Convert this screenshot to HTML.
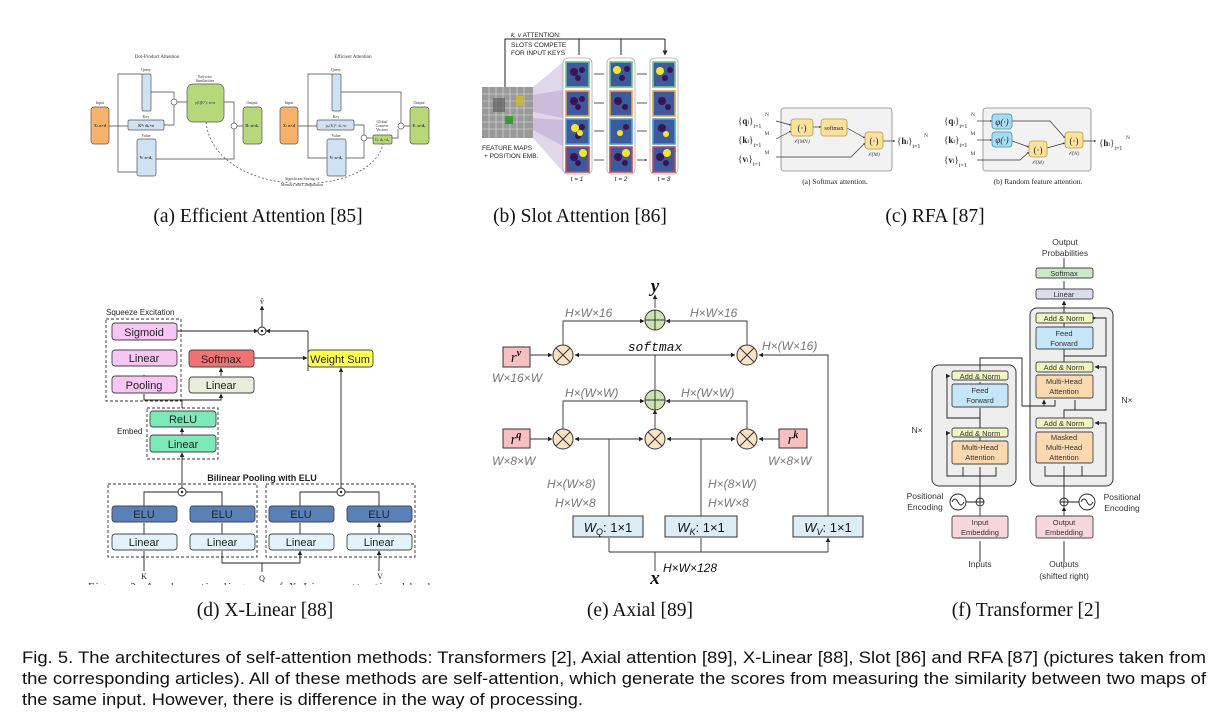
<!DOCTYPE html>
<html><head><meta charset="utf-8"><style>
html,body{margin:0;padding:0;background:#fff;}
svg{display:block;}
.s{font-family:"Liberation Sans",sans-serif;}
.r{font-family:"Liberation Serif",serif;}
</style></head><body>
<svg width="1222" height="716" viewBox="0 0 1222 716" xmlns="http://www.w3.org/2000/svg">
<defs>
<marker id="a" viewBox="0 0 10 10" refX="9" refY="5" markerWidth="5" markerHeight="5" orient="auto"><path d="M0,0L10,5L0,10z" fill="#222"/></marker>
<marker id="as" viewBox="0 0 10 10" refX="9" refY="5" markerWidth="3" markerHeight="3" orient="auto"><path d="M0,0L10,5L0,10z" fill="#333"/></marker>
<clipPath id="cd"><rect x="85" y="579" width="350" height="6"/></clipPath>
</defs>
<rect width="1222" height="716" fill="#fff"/>

<!-- ===== (a) Efficient attention ===== -->
<g class="r" fill="#333" font-size="5">
<text x="157" y="58" text-anchor="middle">Dot-Product Attention</text>
<text x="353" y="58" text-anchor="middle">Efficient Attention</text>
</g>
<g stroke="#444" stroke-width="0.7" fill="none">
<path d="M109,126H128M118,126V74H142M118,126V172H137M151,92H174V99M164,125H174V105M177,102H187M224,102H234V123M156,159H234V129M237,126H243"/>
<path d="M298,126H317M308,126V74H332M308,126V158H327M341,92H401V123M354,125H364V135M346,158H364V141M367,138H373M392,138H398V129M404,126H410"/>
<path d="M206,122 C215,200 370,200 383,144" stroke-dasharray="2,2"/>
</g>
<g stroke="#555" stroke-width="0.7">
<rect x="91" y="107" width="18" height="37" rx="3" fill="#f6b26b"/>
<rect x="142" y="74" width="9" height="37" rx="1.5" fill="#cfe2f3"/>
<rect x="128" y="120" width="36" height="10" rx="1.5" fill="#cfe2f3"/>
<rect x="137" y="139" width="19" height="37" rx="2" fill="#cfe2f3"/>
<rect x="187" y="84" width="37" height="38" rx="6" fill="#b6d77a"/>
<rect x="243" y="107" width="19" height="37" rx="3" fill="#b6d77a"/>
<rect x="280" y="107" width="18" height="37" rx="3" fill="#f6b26b"/>
<rect x="332" y="74" width="9" height="37" rx="1.5" fill="#cfe2f3"/>
<rect x="317" y="120" width="37" height="10" rx="1.5" fill="#cfe2f3"/>
<rect x="327" y="139" width="19" height="37" rx="2" fill="#cfe2f3"/>
<rect x="373" y="135" width="19" height="9" rx="1.5" fill="#b6d77a"/>
<rect x="410" y="107" width="19" height="37" rx="3" fill="#b6d77a"/>
<circle cx="174" cy="102" r="3" fill="#fff"/><circle cx="234" cy="126" r="3" fill="#fff"/>
<circle cx="364" cy="138" r="3" fill="#fff"/><circle cx="401" cy="126" r="3" fill="#fff"/>
</g>
<g class="r" fill="#333" font-size="4" text-anchor="middle">
<text x="100" y="104">Input</text><text x="146" y="71">Query</text><text x="146" y="118">Key</text><text x="146" y="137">Value</text>
<text x="205" y="78">Pairwise</text><text x="205" y="82">Similarities</text><text x="252" y="104">Output</text>
<text x="289" y="104">Input</text><text x="336" y="71">Query</text><text x="336" y="118">Key</text><text x="336" y="137">Value</text>
<text x="382" y="123">Global</text><text x="382" y="127">Context</text><text x="382" y="131">Vectors</text><text x="419" y="104">Output</text>
<text x="302" y="180">Significant Saving of</text><text x="302" y="186">Memory and Computation</text>
<text x="100" y="127" font-weight="bold">X: n×d</text><text x="146" y="127" font-weight="bold">Kᵀ: dₖ×n</text><text x="146" y="159" font-weight="bold">V: n×dᵥ</text>
<text x="205" y="104">ρ(QKᵀ): n×n</text><text x="252" y="127" font-weight="bold">D: n×dᵥ</text>
<text x="289" y="127" font-weight="bold">X: n×d</text><text x="336" y="127">ρₖ(K)ᵀ: dₖ×n</text><text x="336" y="159" font-weight="bold">V: n×dᵥ</text>
<text x="382" y="141">G: dₖ×dᵥ</text><text x="419" y="127" font-weight="bold">E: n×dᵥ</text>
</g>
<text class="r" x="258" y="222" font-size="19.5" text-anchor="middle" fill="#111">(a) Efficient Attention [85]</text>

<!-- ===== (b) Slot attention ===== -->
<g class="s" fill="#222" font-size="6.5">
<text x="511" y="37"><tspan font-style="italic">k, v</tspan> ATTENTION:</text>
<text x="511" y="47">SLOTS COMPETE</text><text x="511" y="55">FOR INPUT KEYS</text>
<text x="482" y="150">FEATURE MAPS</text><text x="484" y="158">+ POSITION EMB.</text>
<text x="577" y="181" font-style="italic" text-anchor="middle">t = 1</text>
<text x="621" y="181" font-style="italic" text-anchor="middle">t = 2</text>
<text x="664" y="181" font-style="italic" text-anchor="middle">t = 3</text>
</g>
<polygon points="533,87 563,62 563,172 533,138" fill="#c8b6da" opacity="0.55"/>
<polygon points="533,95 563,90 563,118 533,112" fill="#9a7fb8" opacity="0.3"/>
<polygon points="533,118 563,120 563,146 533,130" fill="#9a7fb8" opacity="0.3"/>
<g stroke="#222" stroke-width="1" fill="none">
<path d="M505,87V39H665"/>
<path d="M579,39V55M621,39V55M665,39V55" marker-end="url(#a)"/>
</g>
<rect x="482" y="87" width="51" height="51" fill="#9a9a9a"/>
<g stroke="#ddd" stroke-width="0.6">
<path d="M489,87V138M496,87V138M503,87V138M510,87V138M517,87V138M524,87V138M482,94H533M482,101H533M482,108H533M482,115H533M482,122H533M482,129H533"/>
</g>
<rect x="493" y="98" width="12" height="14" fill="#555" opacity="0.6"/>
<rect x="516" y="96" width="8" height="10" fill="#c8b440"/>
<rect x="505" y="116" width="8" height="8" fill="#3a9a3a"/>
<g stroke="#aaa" stroke-width="0.8" fill="#fff">
<rect x="563" y="58" width="29" height="116" rx="5"/><rect x="607" y="58" width="28" height="116" rx="5"/><rect x="650" y="58" width="28" height="116" rx="5"/>
</g>
<g stroke-width="1.6" fill="#3d5a9c">
<rect x="566" y="62" width="23" height="25" stroke="#6fc28a"/><rect x="566" y="91" width="23" height="25" stroke="#e0a24a"/><rect x="566" y="119" width="23" height="25" stroke="#4aa0d8"/><rect x="566" y="147" width="23" height="25" stroke="#c44a4a"/>
<rect x="610" y="62" width="22" height="25" stroke="#6fc28a"/><rect x="610" y="91" width="22" height="25" stroke="#e0a24a"/><rect x="610" y="119" width="22" height="25" stroke="#4aa0d8"/><rect x="610" y="147" width="22" height="25" stroke="#c44a4a"/>
<rect x="653" y="62" width="22" height="25" stroke="#6fc28a"/><rect x="653" y="91" width="22" height="25" stroke="#e0a24a"/><rect x="653" y="119" width="22" height="25" stroke="#4aa0d8"/><rect x="653" y="147" width="22" height="25" stroke="#c44a4a"/>
</g>
<g fill="#3a1455">
<circle cx="574" cy="72" r="4"/><circle cx="582" cy="70" r="3"/><circle cx="578" cy="78" r="3"/>
<circle cx="574" cy="101" r="4"/><circle cx="582" cy="99" r="3"/><circle cx="578" cy="107" r="3"/>
<circle cx="582" cy="127" r="3"/><circle cx="578" cy="136" r="3"/>
<circle cx="574" cy="157" r="4"/><circle cx="578" cy="163" r="3"/>
<circle cx="627" cy="69" r="3"/><circle cx="622" cy="78" r="3"/><circle cx="618" cy="101" r="4"/><circle cx="625" cy="107" r="3"/><circle cx="626" cy="127" r="3"/><circle cx="618" cy="157" r="4"/><circle cx="625" cy="163" r="3"/>
<circle cx="670" cy="70" r="3"/><circle cx="665" cy="78" r="3"/><circle cx="662" cy="101" r="4"/><circle cx="668" cy="107" r="3"/><circle cx="662" cy="128" r="4"/><circle cx="660" cy="157" r="4"/><circle cx="666" cy="163" r="3"/>
</g>
<g fill="#f2e62a">
<circle cx="575" cy="128" r="4"/><circle cx="580" cy="133" r="3"/><circle cx="583" cy="153" r="4"/>
<circle cx="617" cy="70" r="4"/><circle cx="620" cy="133" r="3"/><circle cx="626" cy="153" r="4"/>
<circle cx="660" cy="71" r="4"/><circle cx="666" cy="134" r="3"/><circle cx="667" cy="153" r="4"/>
</g>
<g stroke="#222" stroke-width="0.8" marker-end="url(#as)">
<path d="M594,74H604M594,103H604M594,131H604M594,160H604M637,74H647M637,103H647M637,131H647M637,160H647"/>
</g>
<text class="r" x="580" y="222" font-size="19.5" text-anchor="middle" fill="#111">(b) Slot Attention [86]</text>

<!-- ===== (c) RFA ===== -->
<g stroke="#888" stroke-width="0.8" fill="#f2f2f2">
<rect x="781" y="108" width="111" height="63" rx="3"/><rect x="983" y="108" width="108" height="63" rx="3"/>
</g>
<g stroke="#333" stroke-width="0.7" fill="none" marker-end="url(#as)">
<path d="M776,121L791,125"/><path d="M776,139L791,131"/><path d="M813,127H821"/><path d="M847,128L865,138"/><path d="M776,157H851L865,143"/><path d="M883,141H895"/>
<path d="M977,121H992"/><path d="M977,140H992"/><path d="M1012,141L1029,147"/><path d="M977,160H1020L1029,152"/><path d="M1012,121H1050L1065,138"/><path d="M1047,148L1065,143"/><path d="M1083,141H1096"/>
</g>
<g stroke="#b89a3a" stroke-width="0.8" fill="#fbe1a0">
<rect x="791" y="119" width="22" height="17" rx="3"/><rect x="821" y="119" width="26" height="17" rx="3"/><rect x="865" y="132" width="18" height="17" rx="3"/>
<rect x="1029" y="141" width="18" height="16" rx="3"/><rect x="1065" y="132" width="18" height="16" rx="3"/>
</g>
<g stroke="#4a8ab0" stroke-width="0.8" fill="#a8dcf5">
<rect x="992" y="114" width="20" height="15" rx="3"/><rect x="992" y="132" width="20" height="15" rx="3"/>
</g>
<g class="r" fill="#222" font-size="9">
<text x="802" y="131" text-anchor="middle">(·)</text><text x="834" y="130" text-anchor="middle" font-size="6">softmax</text><text x="874" y="144" text-anchor="middle">(·)</text>
<text x="1038" y="153" text-anchor="middle">(·)</text><text x="1074" y="144" text-anchor="middle">(·)</text>
<text x="1002" y="125" text-anchor="middle" font-style="italic">φ(·)</text><text x="1002" y="143" text-anchor="middle" font-style="italic">φ(·)</text>
<text x="738" y="124">{<tspan font-weight="bold">q</tspan><tspan font-size="6">i</tspan>}<tspan font-size="6" dy="4">i=1</tspan></text>
<text x="738" y="143">{<tspan font-weight="bold">k</tspan><tspan font-size="6">i</tspan>}<tspan font-size="6" dy="4">i=1</tspan></text>
<text x="738" y="162">{<tspan font-weight="bold">v</tspan><tspan font-size="6">i</tspan>}<tspan font-size="6" dy="4">i=1</tspan></text>
<text x="897" y="144">{<tspan font-weight="bold">h</tspan><tspan font-size="6">i</tspan>}<tspan font-size="6" dy="4">i=1</tspan></text>
<text x="944" y="124">{<tspan font-weight="bold">q</tspan><tspan font-size="6">i</tspan>}<tspan font-size="6" dy="4">i=1</tspan></text>
<text x="944" y="143">{<tspan font-weight="bold">k</tspan><tspan font-size="6">i</tspan>}<tspan font-size="6" dy="4">i=1</tspan></text>
<text x="944" y="163">{<tspan font-weight="bold">v</tspan><tspan font-size="6">i</tspan>}<tspan font-size="6" dy="4">i=1</tspan></text>
<text x="1099" y="146">{<tspan font-weight="bold">h</tspan><tspan font-size="6">i</tspan>}<tspan font-size="6" dy="4">i=1</tspan></text>
</g>
<g class="r" fill="#444" font-size="5.5" text-anchor="middle">
<text x="767" y="116">N</text><text x="767" y="135">M</text><text x="767" y="154">M</text><text x="926" y="137">N</text>
<text x="973" y="116">N</text><text x="973" y="135">M</text><text x="973" y="155">M</text><text x="1128" y="139">N</text>
<text x="802" y="143" font-style="italic">𝒪(MN)</text><text x="874" y="156" font-style="italic">𝒪(M)</text>
<text x="1038" y="164" font-style="italic">𝒪(M)</text><text x="1074" y="155" font-style="italic">𝒪(N)</text>
</g>
<g class="r" fill="#222" font-size="7.5" text-anchor="middle">
<text x="835" y="184">(a)  Softmax attention.</text><text x="1038" y="184">(b) Random feature attention.</text>
</g>
<text class="r" x="935" y="222" font-size="19.5" text-anchor="middle" fill="#111">(c) RFA [87]</text>

<!-- ===== (d) X-Linear ===== -->
<g fill="none" stroke="#333" stroke-width="0.9" stroke-dasharray="3,2">
<rect x="106" y="319" width="75" height="82"/><rect x="147" y="408" width="71" height="51"/>
<rect x="108" y="484" width="149" height="73"/><rect x="266" y="484" width="149" height="73"/>
</g>
<g stroke="#222" stroke-width="0.9" fill="none">
<path d="M144,334V324M144,359V350M144,385V375" marker-end="url(#a)"/>
<path d="M308,331V371" />
<path d="M308,331H266" marker-end="url(#a)"/><path d="M177,331H258" marker-end="url(#a)"/>
<path d="M341,490V368" marker-end="url(#a)"/>
<path d="M254,358H307" marker-end="url(#a)"/>
<path d="M221,376V368" marker-end="url(#a)"/>
<path d="M182,408V400H144V394M182,400H221V394"/>
<path d="M144,397V394M221,397V394" marker-end="url(#a)"/>
<path d="M182,435V428" marker-end="url(#a)"/>
<path d="M182,488V453" marker-end="url(#a)"/>
<path d="M262,327V306" marker-end="url(#a)"/>
<path d="M144,506V492H178M186,492H222V506M300,506V492H337M345,492H379V506"/>
<path d="M144,534V523M222,534V523M300,534V523M379,534V523" marker-end="url(#a)"/>
<path d="M144,571V551M379,571V551" marker-end="url(#a)"/>
<path d="M222,556V563H300V556M262,563V572"/>
<path d="M222,556V551M300,556V551" marker-end="url(#a)"/>
</g>
<g stroke="#444" stroke-width="0.9">
<rect x="112" y="323" width="65" height="17" rx="3" fill="#f7c6f2"/>
<rect x="112" y="350" width="65" height="16" rx="3" fill="#f7c6f2"/>
<rect x="112" y="376" width="65" height="17" rx="3" fill="#f7c6f2"/>
<rect x="189" y="350" width="65" height="17" rx="3" fill="#f07272"/>
<rect x="189" y="377" width="65" height="16" rx="3" fill="#e8eddc"/>
<rect x="308" y="350" width="65" height="17" rx="3" fill="#ffff55"/>
<rect x="150" y="411" width="66" height="16" rx="3" fill="#7de8b8"/>
<rect x="150" y="435" width="66" height="17" rx="3" fill="#7de8b8"/>
<rect x="112" y="506" width="65" height="16" rx="3" fill="#5a80b8"/>
<rect x="190" y="506" width="65" height="16" rx="3" fill="#5a80b8"/>
<rect x="269" y="506" width="65" height="16" rx="3" fill="#5a80b8"/>
<rect x="347" y="506" width="65" height="16" rx="3" fill="#5a80b8"/>
<rect x="112" y="534" width="65" height="16" rx="3" fill="#e2f3fb"/>
<rect x="190" y="534" width="65" height="16" rx="3" fill="#e2f3fb"/>
<rect x="269" y="534" width="65" height="16" rx="3" fill="#e2f3fb"/>
<rect x="347" y="534" width="65" height="16" rx="3" fill="#e2f3fb"/>
</g>
<g stroke="#222" stroke-width="0.9" fill="#fff">
<circle cx="262" cy="331" r="4"/><circle cx="182" cy="492" r="4"/><circle cx="341" cy="492" r="4"/>
</g>
<g fill="#222"><circle cx="262" cy="331" r="1.2"/><circle cx="182" cy="492" r="1.2"/><circle cx="341" cy="492" r="1.2"/></g>
<g class="s" fill="#222" font-size="11" text-anchor="middle">
<text x="144" y="336">Sigmoid</text><text x="144" y="362">Linear</text><text x="144" y="389">Pooling</text>
<text x="221" y="363">Softmax</text><text x="221" y="389">Linear</text><text x="340" y="363">Weight Sum</text>
<text x="183" y="423">ReLU</text><text x="183" y="448">Linear</text>
<text x="144" y="518">ELU</text><text x="222" y="518">ELU</text><text x="301" y="518">ELU</text><text x="379" y="518">ELU</text>
<text x="144" y="546">Linear</text><text x="222" y="546">Linear</text><text x="301" y="546">Linear</text><text x="379" y="546">Linear</text>
</g>
<g class="s" fill="#222" font-size="8">
<text x="106" y="315">Squeeze Excitation</text><text x="117" y="434">Embed</text>
<text x="262" y="481" font-weight="bold" font-size="9" text-anchor="middle">Bilinear Pooling with ELU</text>
</g>
<g class="r" fill="#222" font-size="8" text-anchor="middle">
<text x="262" y="304">v̂</text><text x="144" y="579">K</text><text x="262" y="581">Q</text><text x="380" y="579">V</text>
</g>
<text class="r" x="88" y="590" font-size="11" fill="#333" clip-path="url(#cd)" textLength="345">Figure 2: A schematic diagram of X-Linear attention block</text>
<text class="r" x="265" y="616" font-size="19.5" text-anchor="middle" fill="#111">(d) X-Linear [88]</text>

<!-- ===== (e) Axial ===== -->
<g stroke="#333" stroke-width="0.9" fill="none">
<path d="M655,308V295" marker-end="url(#a)"/>
<path d="M563,345V321H644" marker-end="url(#a)"/>
<path d="M747,345V321H666" marker-end="url(#a)"/>
<path d="M530,355H552" marker-end="url(#a)"/>
<path d="M655,389V355H575" marker-end="url(#a)"/>
<path d="M655,355H735" marker-end="url(#a)"/>
<path d="M828,516V355H759" marker-end="url(#a)"/>
<path d="M563,429V401H644" marker-end="url(#a)"/>
<path d="M747,429V401H666" marker-end="url(#a)"/>
<path d="M655,429V410" marker-end="url(#a)"/>
<path d="M530,439H552" marker-end="url(#a)"/>
<path d="M779,439H759" marker-end="url(#a)"/>
<path d="M609,516V439H575" marker-end="url(#a)"/>
<path d="M609,439H643" marker-end="url(#a)"/>
<path d="M701,516V439H667" marker-end="url(#a)"/>
<path d="M701,439H735" marker-end="url(#a)"/>
<path d="M655,571V552M609,552H828"/>
<path d="M609,552V538M701,552V538M828,552V538" marker-end="url(#a)"/>
</g>
<g stroke="#333" stroke-width="1">
<circle cx="655" cy="320" r="10" fill="#cfe1b0"/><circle cx="655" cy="400" r="10" fill="#cfe1b0"/>
<circle cx="563" cy="355" r="10" fill="#fbe3c8"/><circle cx="747" cy="355" r="10" fill="#fbe3c8"/>
<circle cx="563" cy="439" r="10" fill="#fbe3c8"/><circle cx="655" cy="439" r="10" fill="#fbe3c8"/><circle cx="747" cy="439" r="10" fill="#fbe3c8"/>
<path d="M645,320H665M655,310V330M645,400H665M655,390V410"/>
<path d="M556,348L570,362M570,348L556,362M740,348L754,362M754,348L740,362M556,432L570,446M570,432L556,446M648,432L662,446M662,432L648,446M740,432L754,446M754,432L740,446"/>
<rect x="503" y="347" width="27" height="20" fill="#f6c0c0"/>
<rect x="503" y="429" width="27" height="19" fill="#f6c0c0"/>
<rect x="779" y="429" width="28" height="19" fill="#f6c0c0"/>
<rect x="573" y="516" width="70" height="21" fill="#dcedf7"/>
<rect x="665" y="516" width="72" height="21" fill="#dcedf7"/>
<rect x="793" y="516" width="70" height="21" fill="#dcedf7"/>
</g>
<g class="r" fill="#111" font-style="italic">
<text x="655" y="292" font-size="19" font-weight="bold" text-anchor="middle">y</text>
<text x="655" y="584" font-size="19" font-weight="bold" text-anchor="middle">x</text>
<text x="516" y="362" font-size="15" text-anchor="middle">r<tspan font-size="10" dy="-6" font-weight="bold">v</tspan></text>
<text x="516" y="444" font-size="15" text-anchor="middle">r<tspan font-size="10" dy="-6" font-weight="bold">q</tspan></text>
<text x="793" y="444" font-size="15" text-anchor="middle">r<tspan font-size="10" dy="-6" font-weight="bold">k</tspan></text>
</g>
<g class="s" fill="#111" font-size="13">
<text x="608" y="532" text-anchor="middle"><tspan font-style="italic">W<tspan font-size="9" dy="3">Q</tspan></tspan><tspan dy="-3">: 1×1</tspan></text>
<text x="701" y="532" text-anchor="middle"><tspan font-style="italic">W<tspan font-size="9" dy="3">K</tspan></tspan><tspan dy="-3">: 1×1</tspan></text>
<text x="828" y="532" text-anchor="middle"><tspan font-style="italic">W<tspan font-size="9" dy="3">V</tspan></tspan><tspan dy="-3">: 1×1</tspan></text>
<text x="655" y="351" text-anchor="middle" font-family="Liberation Mono,monospace" font-style="italic" font-size="13">softmax</text>
<text x="663" y="572" font-size="12" font-style="italic">H×W×128</text>
</g>
<g class="s" fill="#777" font-size="12" font-style="italic">
<text x="565" y="317">H×W×16</text><text x="690" y="317">H×W×16</text>
<text x="762" y="350">H×(W×16)</text><text x="492" y="382">W×16×W</text>
<text x="565" y="397">H×(W×W)</text><text x="681" y="397">H×(W×W)</text>
<text x="492" y="465">W×8×W</text><text x="768" y="465">W×8×W</text>
<text x="547" y="488">H×(W×8)</text><text x="555" y="507">H×W×8</text>
<text x="708" y="488">H×(8×W)</text><text x="708" y="507">H×W×8</text>
</g>
<text class="r" x="640" y="616" font-size="19.5" text-anchor="middle" fill="#111">(e) Axial [89]</text>

<!-- ===== (f) Transformer ===== -->
<g stroke="#333" stroke-width="1" fill="#eeeeee">
<rect x="932" y="365" width="84" height="121" rx="7"/><rect x="1030" y="308" width="83" height="178" rx="7"/>
</g>
<g stroke="#222" stroke-width="0.9" fill="none">
<path d="M1064,268V258M1064,289V281M1064,313V301" marker-end="url(#a)"/>
<path d="M980,562V541M1064,562V541M980,516V507M1064,516V507" marker-end="url(#a)"/>
<path d="M980,498V467M1064,498V466"/>
<path d="M980,476H947V433H950" marker-end="url(#a)"/><path d="M980,476H963V467M980,476H996V467"/>
<path d="M980,441V412M980,418H947V376H950" marker-end="url(#a)"/>
<path d="M980,428V408M980,384V382"/>
<path d="M980,371V358H1022V406H1055V400"/><path d="M1055,403V400M1033,406H1044V400" marker-end="url(#a)"/>
<path d="M1064,476H1106V423H1095" marker-end="url(#a)"/><path d="M1064,476H1045V466M1064,476H1082V466"/>
<path d="M1064,418V410H1075V400M1064,410V416"/><path d="M1064,410H1106V367H1095" marker-end="url(#a)"/>
<path d="M1064,362V349M1064,327V323M1064,356H1106V318H1095"/>
<path d="M1095,318H1096" marker-end="url(#a)"/>
<path d="M950,502H976M1068,502H1079"/>
</g>
<g stroke="#444" stroke-width="0.9">
<rect x="1036" y="268" width="57" height="10" rx="2" fill="#cbe8c9"/>
<rect x="1036" y="289" width="57" height="10" rx="2" fill="#dcdcf0"/>
<rect x="1036" y="313" width="57" height="10" rx="2" fill="#f0f5c4"/>
<rect x="1036" y="327" width="57" height="22" rx="2" fill="#c4e6f6"/>
<rect x="1036" y="362" width="57" height="10" rx="2" fill="#f0f5c4"/>
<rect x="1036" y="375" width="57" height="23" rx="2" fill="#fbd9b0"/>
<rect x="1036" y="418" width="57" height="10" rx="2" fill="#f0f5c4"/>
<rect x="1036" y="432" width="57" height="31" rx="2" fill="#fbd9b0"/>
<rect x="952" y="371" width="56" height="9" rx="2" fill="#f0f5c4"/>
<rect x="952" y="384" width="56" height="23" rx="2" fill="#c4e6f6"/>
<rect x="952" y="428" width="56" height="9" rx="2" fill="#f0f5c4"/>
<rect x="952" y="441" width="56" height="23" rx="2" fill="#fbd9b0"/>
<rect x="952" y="516" width="56" height="22" rx="2" fill="#f7d7dd"/>
<rect x="1036" y="516" width="57" height="22" rx="2" fill="#f7d7dd"/>
</g>
<g stroke="#222" stroke-width="0.9" fill="#fff">
<circle cx="980" cy="502" r="4"/><circle cx="1064" cy="502" r="4"/>
<circle cx="958" cy="502" r="8"/><circle cx="1087" cy="502" r="8"/>
<path d="M976,502H984M980,498V506M1060,502H1068M1064,498V506" fill="none"/>
<path d="M952,502q3,-6 6,0t6,0M1081,502q3,-6 6,0t6,0" fill="none"/>
</g>
<g class="s" fill="#333" font-size="8.5" text-anchor="middle">
<text x="1065" y="245">Output</text><text x="1065" y="256">Probabilities</text>
<text x="1064" y="276" font-size="7.5">Softmax</text><text x="1064" y="297" font-size="7.5">Linear</text>
<text x="1064" y="321" font-size="7.5">Add &amp; Norm</text><text x="1064" y="336" font-size="7.5">Feed</text><text x="1064" y="346" font-size="7.5">Forward</text>
<text x="1064" y="370" font-size="7.5">Add &amp; Norm</text><text x="1064" y="384" font-size="7.5">Multi-Head</text><text x="1064" y="394" font-size="7.5">Attention</text>
<text x="1064" y="426" font-size="7.5">Add &amp; Norm</text><text x="1064" y="440" font-size="7.5">Masked</text><text x="1064" y="450" font-size="7.5">Multi-Head</text><text x="1064" y="460" font-size="7.5">Attention</text>
<text x="980" y="379" font-size="7.5">Add &amp; Norm</text><text x="980" y="393" font-size="7.5">Feed</text><text x="980" y="403" font-size="7.5">Forward</text>
<text x="980" y="436" font-size="7.5">Add &amp; Norm</text><text x="980" y="450" font-size="7.5">Multi-Head</text><text x="980" y="460" font-size="7.5">Attention</text>
<text x="980" y="525" font-size="7.5">Input</text><text x="980" y="535" font-size="7.5">Embedding</text>
<text x="1064" y="525" font-size="7.5">Output</text><text x="1064" y="535" font-size="7.5">Embedding</text>
<text x="925" y="499">Positional</text><text x="925" y="510">Encoding</text>
<text x="1122" y="500">Positional</text><text x="1122" y="511">Encoding</text>
<text x="980" y="567">Inputs</text><text x="1064" y="567">Outputs</text><text x="1064" y="579">(shifted right)</text>
<text x="917" y="433">N×</text><text x="1127" y="403">N×</text>
</g>
<text class="r" x="1026" y="616" font-size="19.5" text-anchor="middle" fill="#111">(f) Transformer [2]</text>

<!-- ===== Caption ===== -->
<g class="s" fill="#111" font-size="16.5">
<text x="22" y="663" textLength="1184" lengthAdjust="spacingAndGlyphs">Fig. 5.  The architectures of self-attention methods: Transformers [2], Axial attention [89], X-Linear [88], Slot [86] and RFA [87] (pictures taken from</text>
<text x="22" y="684" textLength="1184" lengthAdjust="spacingAndGlyphs">the corresponding articles). All of these methods are self-attention, which generate the scores from measuring the similarity between two maps of</text>
<text x="22" y="705" textLength="561" lengthAdjust="spacingAndGlyphs">the same input. However, there is difference in the way of processing.</text>
</g>
</svg>
</body></html>
